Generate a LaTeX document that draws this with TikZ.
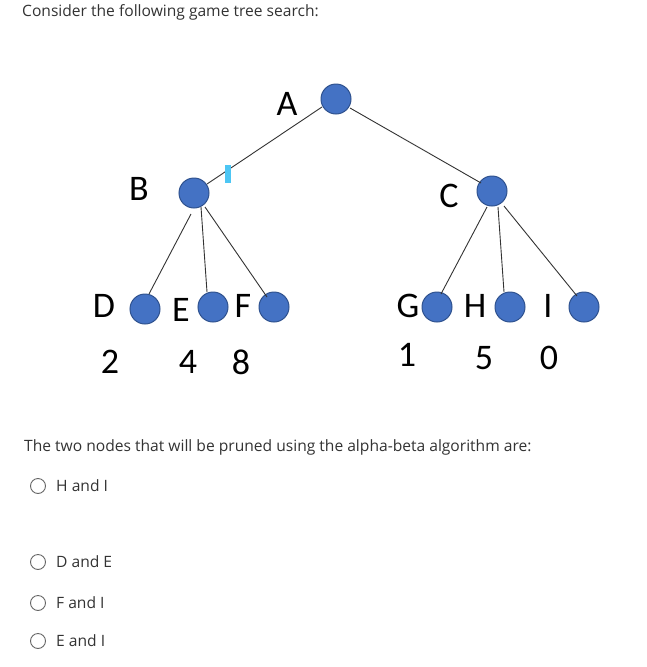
\documentclass[tikz,border=0pt]{standalone}
\usepackage{fontspec}
\setmainfont{Open Sans}
\newfontfamily\lbl{Carlito}
\definecolor{nodeblue}{RGB}{68,114,196}
\definecolor{nodeedge}{RGB}{47,82,143}
\begin{document}
\begin{tikzpicture}[x=1pt,y=-1pt,
  tn/.style={circle,fill=nodeblue,draw=nodeedge,line width=1pt,minimum size=30pt,inner sep=0pt},
  lb/.style={font=\lbl\fontsize{36}{36}\selectfont,inner sep=0pt},
  ed/.style={draw=black!80,line width=0.9pt},
  tx/.style={font=\fontsize{15.6}{18}\selectfont,text=black!80,anchor=west,inner sep=0pt},
  rb/.style={circle,draw=black!60,line width=0.9pt,minimum size=15pt,inner sep=0pt}]
\useasboundingbox[fill=white] (0,0) rectangle (646,667);
\node[tx] (t1) at (22,12) {Consider the following game tree search:};
\node[tn] (A) at (336,99) {};
\node[tn] (B) at (194,193) {};
\node[tn] (C) at (492,191) {};
\node[tn] (D) at (145,309) {};
\node[tn] (E) at (213,307) {};
\node[tn] (F) at (274,307) {};
\node[tn] (G) at (437,307) {};
\node[tn] (H) at (510,307) {};
\node[tn] (I) at (584,307) {};
\node[lb] (lA) at (287,104) {A};
\node[lb] (lB) at (139,189) {B};
\node[lb] (lC) at (449,196) {C};
\node[lb] (lD) at (104,306) {D};
\node[lb] (lE) at (181,310) {E};
\node[lb] (lF) at (243,306) {F};
\node[lb] (lG) at (408,306) {G};
\node[lb] (lH) at (475,306) {H};
\node[lb] (lI) at (548,306) {I};
\node[lb] (n2) at (110,362) {2};
\node[lb] (n4) at (188,362) {4};
\node[lb] (n8) at (241,362) {8};
\node[lb] (n1) at (407,355) {1};
\node[lb] (n5) at (484,358) {5};
\node[lb] (n0) at (549,358) {0};
\coordinate (a1) at (322,107); \coordinate (b1) at (207,184);
\coordinate (a2) at (350,108); \coordinate (c1) at (481,183);
\draw[ed] (a1) -- (b1);
\draw[ed] (a2) -- (c1);
\coordinate (bd1) at (191,214); \coordinate (bd2) at (149,294);
\coordinate (be1) at (201,207); \coordinate (be2) at (207,292);
\coordinate (bf1) at (205,207); \coordinate (bf2) at (267,297);
\draw[ed] (bd1) -- (bd2); \draw[ed] (be1) -- (be2); \draw[ed] (bf1) -- (bf2);
\coordinate (cg1) at (487,207); \coordinate (cg2) at (441,294);
\coordinate (ch1) at (498,207); \coordinate (ch2) at (504,292);
\coordinate (ci1) at (504,206); \coordinate (ci2) at (577,296);
\draw[ed] (cg1) -- (cg2); \draw[ed] (ch1) -- (ch2); \draw[ed] (ci1) -- (ci2);
\fill[cyan!70!white] (225,165) rectangle (231,183);
\node[tx] (q) at (24,447) {The two nodes that will be pruned using the alpha-beta algorithm are:};
\node[rb] (r1) at (38,486) {}; \node[tx] (o1) at (56,486) {H and I};
\node[rb] (r2) at (38,562) {}; \node[tx] (o2) at (56,562) {D and E};
\node[rb] (r3) at (38,603) {}; \node[tx] (o3) at (56,603) {F and I};
\node[rb] (r4) at (38,641) {}; \node[tx] (o4) at (56,641) {E and I};
\end{tikzpicture}
\end{document}
